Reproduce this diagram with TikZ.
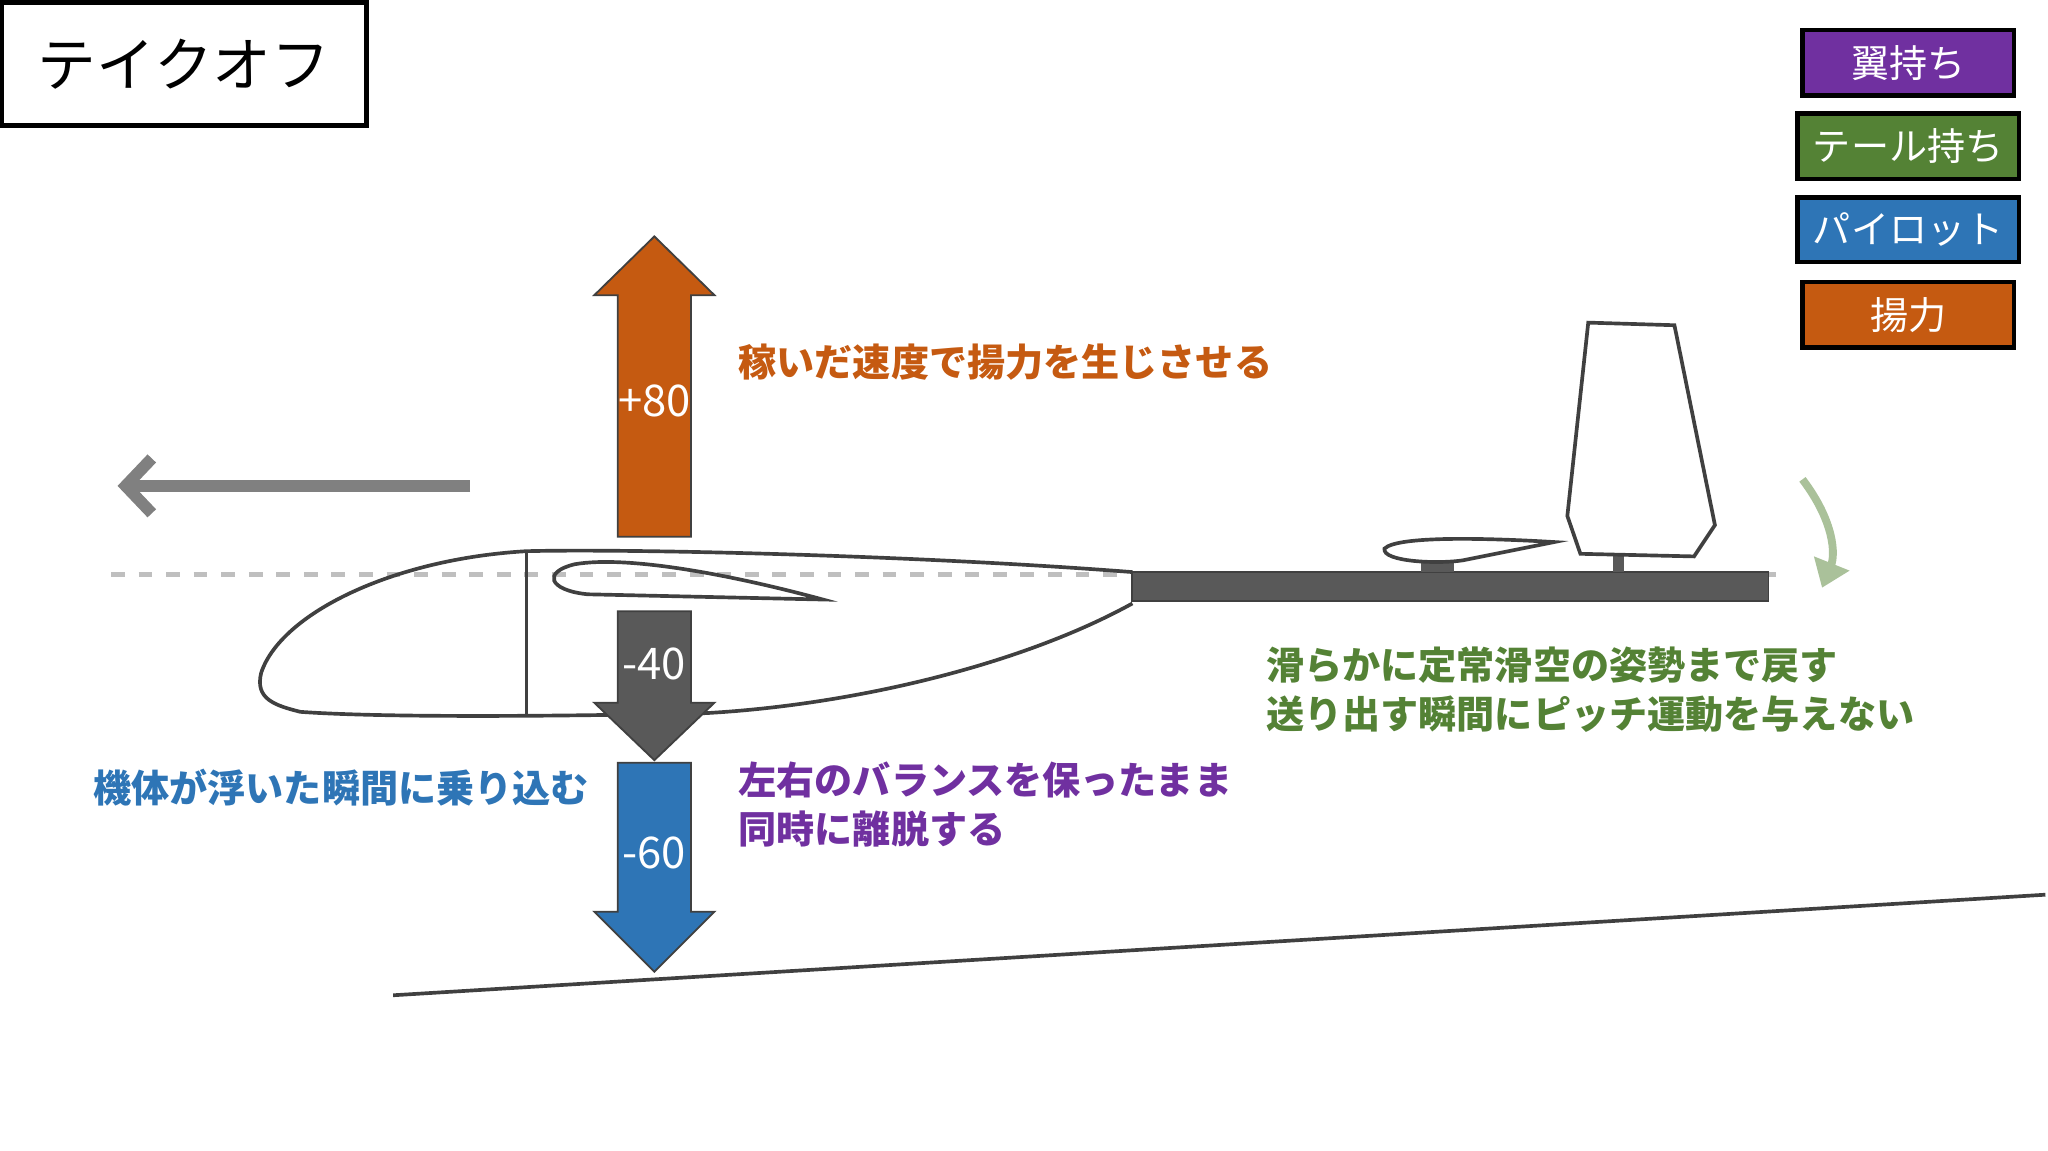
\documentclass[tikz,border=0pt]{standalone}
\usepackage{fontspec}
\setmainfont{Noto Sans CJK JP}
\usetikzlibrary{arrows.meta}
\definecolor{wingc}{HTML}{7030A0}
\definecolor{tailc}{HTML}{548235}
\definecolor{pilotc}{HTML}{2E75B6}
\definecolor{liftc}{HTML}{C55A11}
\definecolor{darkc}{HTML}{595959}
\tikzset{
  legend/.style={draw=black, line width=1pt, text=white, minimum width=1.62cm, minimum height=0.47cm, font=\fontsize{8.3}{10}\selectfont},
  note/.style={anchor=west, font=\fontsize{8.3}{10.5}\selectfont\bfseries, align=left},
  outl/.style={draw=black!75, line width=0.8pt},
  num/.style={text=white, font=\fontsize{9.5}{11}\selectfont}
}
\begin{document}
\begin{tikzpicture}[x=0.01cm,y=-0.01cm]
\useasboundingbox (0,0) rectangle (1568,881);
% title
\node[draw=black, line width=1pt, minimum width=2.79cm, minimum height=0.94cm, font=\fontsize{12.8}{14}\selectfont] (title) at (141,49) {テイクオフ};
% legend
\node[legend, fill=wingc] (lwing) at (1461,48) {翼持ち};
\node[legend, fill=tailc] (ltail) at (1461,112) {テール持ち};
\node[legend, fill=pilotc] (lpilot) at (1461,176) {パイロット};
\node[legend, fill=liftc] (llift) at (1461,241) {揚力};
% level line and ground
\draw[gray!50, dashed, line width=1pt] (85,440) -- (1360,440);
\draw[outl] (301,762) -- (1566,685);
% direction of motion
\coordinate (mstart) at (360,372);
\coordinate (mend) at (90,372);
\draw[gray, line width=0.09cm, -{Straight Barb[length=0.2cm,width=0.42cm]}] (mstart) -- (mend);
% fuselage
\draw[outl] (867,438) .. controls (700,425) and (480,420) .. (403,422)
  .. controls (300,428) and (215,470) .. (200,515)
  .. controls (195,535) and (210,540) .. (230,545)
  .. controls (300,550) and (450,548) .. (540,546)
  .. controls (650,540) and (780,510) .. (867,462);
\draw[outl] (403,422) -- (403,547);
\draw[outl] (630,459) .. controls (560,440) and (480,425) .. (440,432)
  .. controls (415,438) and (420,452) .. (450,455) -- cycle;
% boom and tail
\fill[darkc, draw=black!75] (867,438) rectangle (1354,460);
\fill[darkc] (1088,429) rectangle (1113,438);
\fill[darkc] (1235,425) rectangle (1243,438);
\draw[outl, fill=white] (1190,415) .. controls (1140,412) and (1070,410) .. (1060,420)
  .. controls (1058,430) and (1100,432) .. (1120,429) -- cycle;
\draw[outl, fill=white] (1216,247) -- (1282,249) -- (1313,402) -- (1297,426) -- (1210,424) -- (1200,395) -- cycle;
% pitch arrow
\coordinate (pstart) at (1380,367);
\coordinate (pend) at (1395,450);
\draw[tailc!50, line width=0.06cm, -{Triangle[length=0.2cm,width=0.28cm]}] (pstart) .. controls (1405,400) and (1405,425) .. (pend);
% force arrows
\fill[liftc, draw=black!75] (473,411) -- (473,226) -- (455,226) -- (501,181) -- (547,226) -- (529,226) -- (529,411) -- cycle;
\node[num] (plus80) at (501,307) {+80};
\fill[darkc, draw=black!75] (473,468) -- (473,538) -- (455,538) -- (501,582) -- (547,538) -- (529,538) -- (529,468) -- cycle;
\node[num] (minus40) at (501,508) {-40};
\fill[pilotc, draw=black!75] (473,584) -- (473,698) -- (455,698) -- (501,744) -- (547,698) -- (529,698) -- (529,584) -- cycle;
\node[num] (minus60) at (501,653) {-60};
% notes
\node[note, text=liftc] (nlift) at (553,277) {稼いだ速度で揚力を生じさせる};
\node[note, text=tailc] (ntail) at (957,528) {滑らかに定常滑空の姿勢まで戻す\\送り出す瞬間にピッチ運動を与えない};
\node[note, text=pilotc] (npilot) at (59,603) {機体が浮いた瞬間に乗り込む};
\node[note, text=wingc] (nwing) at (553,616) {左右のバランスを保ったまま\\同時に離脱する};
\end{tikzpicture}
\end{document}
